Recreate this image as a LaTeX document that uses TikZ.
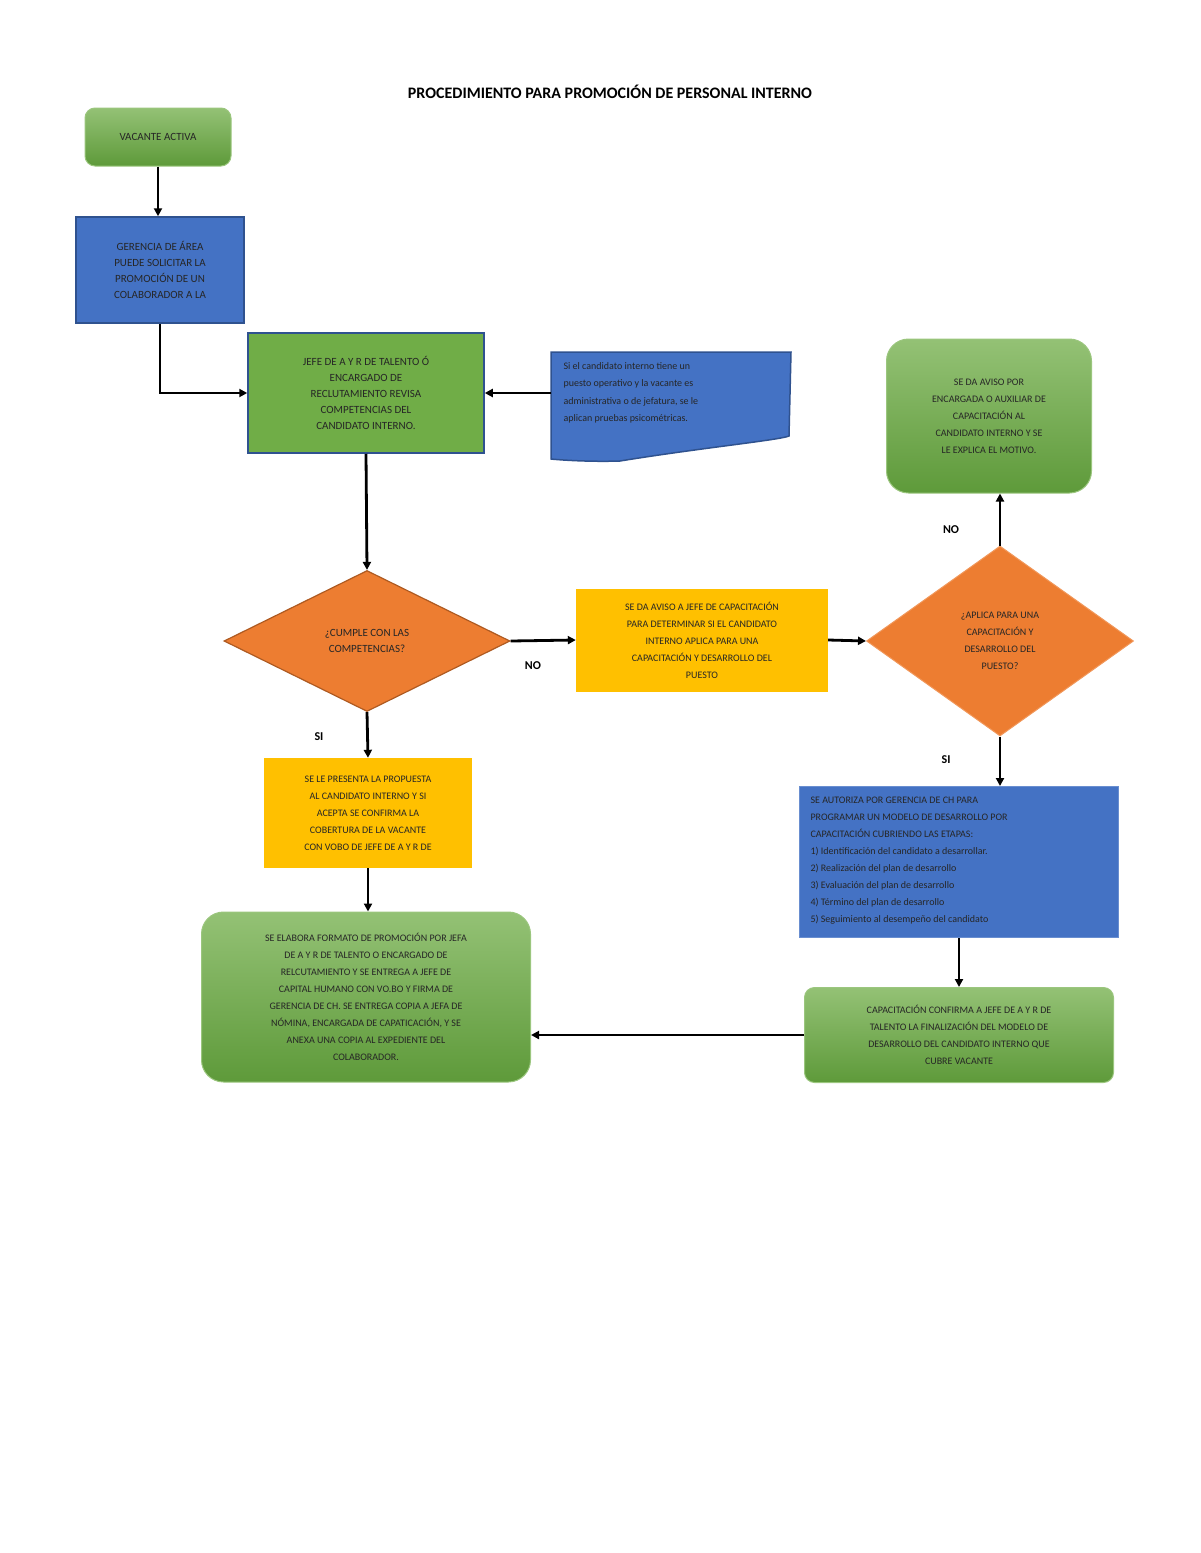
\documentclass[tikz,border=0pt]{standalone}
\usepackage{fontspec}
\setmainfont{Carlito}
\usetikzlibrary{shapes.geometric,arrows.meta}
\definecolor{gr}{HTML}{70AD47}
\definecolor{grd}{HTML}{5E9A3A}
\definecolor{bl}{HTML}{4472C4}
\definecolor{bld}{HTML}{2F528F}
\definecolor{ye}{HTML}{FFC000}
\definecolor{ora}{HTML}{ED7D31}
\definecolor{orad}{HTML}{AE5A21}
\begin{document}
\begin{tikzpicture}[x=1pt,y=-1pt,
 txt/.style={font=\fontsize{11}{16}\selectfont,align=center,text=black!85},
 stxt/.style={font=\fontsize{10}{17}\selectfont,align=center,text=black!85},
 gbox/.style={rounded corners=10pt,top color=gr!75!white,bottom color=grd,draw=gr!70!white,line width=1pt},
 arr/.style={line width=2.8pt,-{Triangle[length=8pt,width=8pt]}}]
\useasboundingbox (0,0) rectangle (1200,1553);
\node[font=\bfseries\fontsize{16}{18}\selectfont] (title) at (610,92) {PROCEDIMIENTO PARA PROMOCIÓN DE PERSONAL INTERNO};
% shapes
\node[gbox,minimum width=146pt,minimum height=58pt,txt] (va) at (158,137) {VACANTE ACTIVA};
\node[fill=bl,draw=bld,line width=1.5pt,minimum width=168pt,minimum height=106pt,txt] (ger) at (160,270) {GERENCIA DE ÁREA\\PUEDE SOLICITAR LA\\PROMOCIÓN DE UN\\COLABORADOR A LA};
\node[fill=gr,draw=bld,line width=1.5pt,minimum width=236pt,minimum height=120pt,txt,inner sep=0pt] (jefe) at (366,393) {JEFE DE A Y R DE TALENTO Ó\\ENCARGADO DE\\RECLUTAMIENTO REVISA\\COMPETENCIAS DEL\\CANDIDATO INTERNO.};
\draw[fill=bl,draw=bld,line width=1.5pt] (551,352) -- (791,352) -- (789,436) .. controls (780,440) and (700,448) .. (620,461) .. controls (590,462) and (560,460) .. (551,459) -- cycle;
\node[stxt,align=left,anchor=north west,font=\fontsize{10}{17.5}\selectfont] (nota) at (560,359) {Si el candidato interno tiene un\\puesto operativo y la vacante es\\administrativa o de jefatura, se le\\aplican pruebas psicométricas.};
\coordinate (notaL) at (551,393);
\node[diamond,fill=ora,draw=orad,line width=1.2pt,minimum width=286pt,minimum height=141pt,inner sep=0pt,txt,aspect=2] (d1) at (367,641) {¿CUMPLE CON LAS\\COMPETENCIAS?};
\node[fill=ye,minimum width=252pt,minimum height=103pt,stxt,inner sep=0pt] (av) at (702,640) {SE DA AVISO A JEFE DE CAPACITACIÓN\\PARA DETERMINAR SI EL CANDIDATO\\INTERNO APLICA PARA UNA\\CAPACITACIÓN Y DESARROLLO DEL\\PUESTO};
\node[diamond,fill=ora,draw=ora!80!white,line width=1pt,minimum width=267pt,minimum height=190pt,inner sep=0pt,stxt,aspect=1.4] (d2) at (1000,641) {¿APLICA PARA UNA\\CAPACITACIÓN Y\\DESARROLLO DEL\\PUESTO?};
\node[gbox,rounded corners=22pt,minimum width=205pt,minimum height=154pt,stxt] (no2) at (989,416) {SE DA AVISO POR\\ENCARGADA O AUXILIAR DE\\CAPACITACIÓN AL\\CANDIDATO INTERNO Y SE\\LE EXPLICA EL MOTIVO.};
\node[fill=ye,minimum width=208pt,minimum height=110pt,stxt,inner sep=0pt] (si1) at (368,813) {SE LE PRESENTA LA PROPUESTA\\AL CANDIDATO INTERNO Y SI\\ACEPTA SE CONFIRMA LA\\COBERTURA DE LA VACANTE\\CON VOBO DE JEFE DE A Y R DE};
\node[gbox,rounded corners=22pt,minimum width=329pt,minimum height=170pt,stxt,inner sep=0pt] (fmt) at (366,997) {SE ELABORA FORMATO DE PROMOCIÓN POR JEFA\\DE A Y R DE TALENTO O ENCARGADO DE\\RELCUTAMIENTO Y SE ENTREGA A JEFE DE\\CAPITAL HUMANO CON VO.BO Y FIRMA DE\\GERENCIA DE CH. SE ENTREGA COPIA A JEFA DE\\NÓMINA, ENCARGADA DE CAPATICACIÓN, Y SE\\ANEXA UNA COPIA AL EXPEDIENTE DEL\\COLABORADOR.};
\node[fill=bl,draw=bl!80!white,line width=1pt,minimum width=319pt,minimum height=151pt,inner sep=0pt] (aut) at (959,862) {};
\node[stxt,align=left,anchor=north west] at (807,793) {SE AUTORIZA POR GERENCIA DE CH PARA\\PROGRAMAR UN MODELO DE DESARROLLO POR\\CAPACITACIÓN CUBRIENDO LAS ETAPAS:\\1) Identificación del candidato a desarrollar.\\2) Realización del plan de desarrollo\\3) Evaluación del plan de desarrollo\\4) Término del plan de desarrollo\\5) Seguimiento al desempeño del candidato};
\node[gbox,minimum width=309pt,minimum height=95pt,stxt,inner sep=0pt] (cap) at (959,1035) {CAPACITACIÓN CONFIRMA A JEFE DE A Y R DE\\TALENTO LA FINALIZACIÓN DEL MODELO DE\\DESARROLLO DEL CANDIDATO INTERNO QUE\\CUBRE VACANTE};
% labels
\node[font=\bfseries\fontsize{12}{14}\selectfont] (l1) at (533,666) {NO};
\node[font=\bfseries\fontsize{12}{14}\selectfont] (l2) at (319,737) {SI};
\node[font=\bfseries\fontsize{12}{14}\selectfont] (l3) at (951,530) {NO};
\node[font=\bfseries\fontsize{12}{14}\selectfont] (l4) at (946,760) {SI};
% arrows
\draw[arr] (va.south) -- (ger.north -| va.south);
\draw[arr] (ger.south) |- (jefe.west);
\draw[arr] (notaL) -- (jefe.east);
\draw[arr] (jefe.south) -- (d1.north);
\draw[arr] (d1.east) -- (av.west);
\draw[arr] (av.east) -- (d2.west);
\draw[arr] (d2.north) -- (no2.south -| d2.north);
\draw[arr] (d2.south) -- (aut.north -| d2.south);
\draw[arr] (d1.south) -- (si1.north);
\draw[arr] (si1.south) -- (fmt.north -| si1.south);
\draw[arr] (aut.south) -- (cap.north);
\draw[arr] (cap.west) -- (fmt.east |- cap.west);
\end{tikzpicture}
\end{document}
